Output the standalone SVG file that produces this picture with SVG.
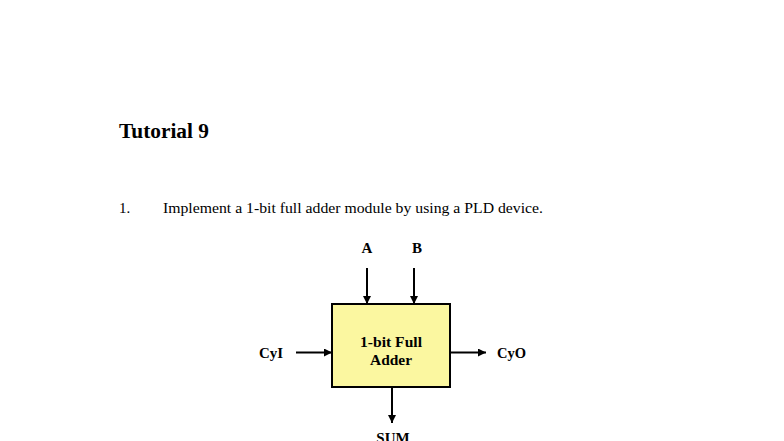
<svg xmlns="http://www.w3.org/2000/svg" width="784" height="441" viewBox="0 0 784 441">
<defs>
<style>
.t{font-family:"Liberation Serif","Times New Roman",serif;fill:#000}
.b{font-weight:bold;font-size:15px}
.w{stroke:#000;stroke-width:2;fill:none}
</style>
<marker id="ah" viewBox="0 0 10 10" refX="10" refY="5" markerWidth="9" markerHeight="8" markerUnits="userSpaceOnUse" orient="auto"><path d="M0,0 L10,5 L0,10 z" fill="#000"/></marker>
</defs>
<rect width="784" height="441" fill="#fff"/>
<text class="t" x="119" y="138" font-size="20" font-weight="bold" textLength="90" lengthAdjust="spacingAndGlyphs">Tutorial 9</text>
<text class="t" x="119" y="213" font-size="15">1.</text>
<text class="t" x="163" y="213" font-size="15" textLength="380" lengthAdjust="spacingAndGlyphs">Implement a 1-bit full adder module by using a PLD device.</text>
<g id="adder">
<rect x="332" y="304" width="118" height="83" fill="#fbf7a0" stroke="#000" stroke-width="2"/>
<text class="t b" x="360" y="347" textLength="62" lengthAdjust="spacingAndGlyphs">1-bit Full</text>
<text class="t b" x="370" y="365" textLength="42" lengthAdjust="spacingAndGlyphs">Adder</text>
</g>
<g id="labelA"><text class="t b" x="367" y="253" text-anchor="middle">A</text></g>
<g id="labelB"><text class="t b" x="417" y="253" text-anchor="middle">B</text></g>
<g id="labelCyI"><text class="t b" x="259" y="358" textLength="24" lengthAdjust="spacingAndGlyphs">CyI</text></g>
<g id="labelCyO"><text class="t b" x="497" y="358" textLength="29" lengthAdjust="spacingAndGlyphs">CyO</text></g>
<g id="labelSUM"><text class="t b" x="393" y="443" text-anchor="middle">SUM</text></g>
<g id="connectors">
<line class="w" x1="367" y1="268" x2="367" y2="304" marker-end="url(#ah)"/>
<line class="w" x1="414" y1="268" x2="414" y2="304" marker-end="url(#ah)"/>
<line class="w" x1="296" y1="352.5" x2="332" y2="352.5" marker-end="url(#ah)"/>
<line class="w" x1="450" y1="352.5" x2="486" y2="352.5" marker-end="url(#ah)"/>
<line class="w" x1="392" y1="387" x2="392" y2="423" marker-end="url(#ah)"/>
</g>
</svg>
